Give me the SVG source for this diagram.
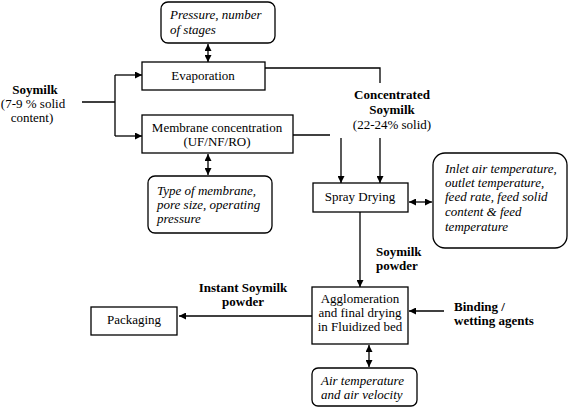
<svg xmlns="http://www.w3.org/2000/svg" width="568" height="407" viewBox="0 0 568 407">
<style>
.box{fill:#fff;stroke:#000;stroke-width:1.3}
.ln{fill:none;stroke:#000;stroke-width:1.3}
text{font-family:"Liberation Serif","Times New Roman",serif;font-size:13px;fill:#000}
.c{text-anchor:middle}
.i{font-style:italic}
.b{font-weight:bold}
</style>
<defs>
<marker id="ah" viewBox="0 0 10 10" refX="10" refY="5" markerWidth="7" markerHeight="7" markerUnits="userSpaceOnUse" orient="auto-start-reverse">
<path d="M0,0 L10,5 L0,10 z" fill="#000"/>
</marker>
</defs>
<rect width="568" height="407" fill="#fff"/>
<g id="connectors">
<path class="ln" d="M82,102 H115 M115,75 V136"/>
<path class="ln" d="M115,75 H142" marker-end="url(#ah)"/>
<path class="ln" d="M115,136 H142" marker-end="url(#ah)"/>
<path class="ln" d="M208,44 V62" marker-start="url(#ah)" marker-end="url(#ah)"/>
<path class="ln" d="M208,154 V175" marker-start="url(#ah)" marker-end="url(#ah)"/>
<path class="ln" d="M265,68 H380 V83"/>
<path class="ln" d="M293,135 H330"/>
<path class="ln" d="M341,138 V183" marker-end="url(#ah)"/>
<path class="ln" d="M380,138 V183" marker-end="url(#ah)"/>
<path class="ln" d="M409,202 H432" marker-start="url(#ah)" marker-end="url(#ah)"/>
<path class="ln" d="M360,212 V287" marker-end="url(#ah)"/>
<path class="ln" d="M444,311 H409" marker-end="url(#ah)"/>
<path class="ln" d="M312,316 H179" marker-end="url(#ah)"/>
<path class="ln" d="M369,345 V367" marker-start="url(#ah)" marker-end="url(#ah)"/>
</g>
<g id="soymilk">
<text class="c b" x="35" y="94">Soymilk</text>
<text class="c" x="33" y="108">(7-9 % solid</text>
<text class="c" x="32" y="122">content)</text>
</g>
<g id="pressure">
<rect class="box" x="161" y="2" width="114" height="41" rx="7"/>
<text class="i" x="170" y="19">Pressure, number</text>
<text class="i" x="170" y="34">of stages</text>
</g>
<g id="evaporation">
<rect class="box" x="142" y="62" width="123" height="28"/>
<text class="c" x="203" y="80">Evaporation</text>
</g>
<g id="membrane">
<rect class="box" x="142" y="115" width="151" height="38"/>
<text class="c" x="217" y="132">Membrane concentration</text>
<text class="c" x="217" y="146">(UF/NF/RO)</text>
</g>
<g id="membrane-params">
<rect class="box" x="148" y="176" width="124" height="57" rx="7"/>
<text class="i" x="157" y="195">Type of membrane,</text>
<text class="i" x="157" y="209">pore size, operating</text>
<text class="i" x="157" y="223">pressure</text>
</g>
<g id="concentrated">
<text class="c b" x="392" y="99">Concentrated</text>
<text class="c b" x="392" y="114">Soymilk</text>
<text class="c" x="392" y="129">(22-24% solid)</text>
</g>
<g id="spray">
<rect class="box" x="313" y="183" width="95" height="29"/>
<text class="c" x="360" y="201">Spray Drying</text>
</g>
<g id="spray-params">
<rect class="box" x="433" y="153" width="134" height="95" rx="12"/>
<text class="i" x="445" y="173">Inlet air temperature,</text>
<text class="i" x="445" y="187">outlet temperature,</text>
<text class="i" x="445" y="201">feed rate, feed solid</text>
<text class="i" x="445" y="216">content &amp; feed</text>
<text class="i" x="445" y="231">temperature</text>
</g>
<g id="soymilk-powder">
<text class="b" x="376" y="256">Soymilk</text>
<text class="b" x="376" y="270">powder</text>
</g>
<g id="agglomeration">
<rect class="box" x="312" y="287" width="96" height="57"/>
<text class="c" x="360" y="303">Agglomeration</text>
<text class="c" x="360" y="317">and final drying</text>
<text class="c" x="360" y="331">in Fluidized bed</text>
</g>
<g id="binding">
<text class="b" x="454" y="311">Binding /</text>
<text class="b" x="454" y="325">wetting agents</text>
</g>
<g id="air">
<rect class="box" x="312" y="368" width="105" height="38" rx="6"/>
<text class="i" x="321" y="385">Air temperature</text>
<text class="i" x="321" y="399">and air velocity</text>
</g>
<g id="instant">
<text class="c b" x="243" y="292">Instant Soymilk</text>
<text class="c b" x="243" y="306">powder</text>
</g>
<g id="packaging">
<rect class="box" x="91" y="307" width="86" height="28"/>
<text class="c" x="134" y="324">Packaging</text>
</g>
</svg>
